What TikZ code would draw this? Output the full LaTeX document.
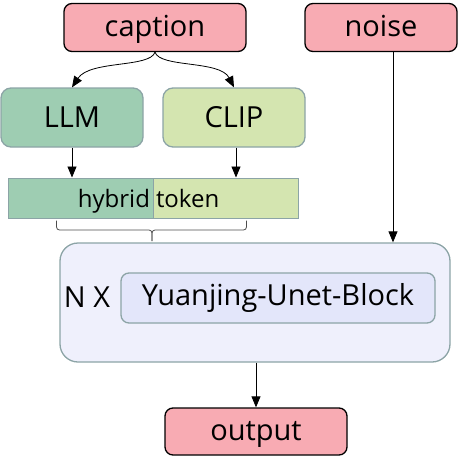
\documentclass[tikz,border=0pt]{standalone}
\usepackage{fontspec}
\setmainfont{Open Sans}
\usetikzlibrary{arrows.meta}
\definecolor{pinkfill}{HTML}{F8ABB3}
\definecolor{llmfill}{HTML}{9ECDB2}
\definecolor{clipfill}{HTML}{D4E5B0}
\definecolor{edgegray}{HTML}{8CA4A6}
\definecolor{blockfill}{HTML}{EFF0FC}
\definecolor{unetfill}{HTML}{E3E6FA}
\tikzset{
	pbox/.style 2 args={draw=black,fill=pinkfill,rounded corners=8pt,line width=1.3pt,minimum width=#1,minimum height=#2,inner sep=0pt,text height=23pt,text depth=6pt,font=\fontsize{29}{32}\selectfont},
	gbox/.style 2 args={draw=edgegray,fill=#1,rounded corners=10pt,line width=1.3pt,minimum width=142pt,minimum height=59pt,inner sep=0pt,text height=23pt,text depth=4pt,font=\fontsize{#2}{32}\selectfont},
	bar/.style 2 args={draw=edgegray,fill=#1,line width=1pt,minimum height=40pt,text width=139pt,inner sep=3pt,align=#2,text height=18pt,text depth=0pt,font=\fontsize{24}{26}\selectfont},
	arr/.style={-{Triangle[length=11pt,width=9pt]},line width=0.8pt}
}
\begin{document}
\begin{tikzpicture}[x=1pt,y=-1pt]
	\useasboundingbox (0,0) rectangle (458,467);
	\node [pbox={182pt}{48pt}] (caption) at (155,27.5) {caption};
	\node [pbox={152pt}{48pt}] (noise) at (381,27.5) {noise};
	\node [gbox={llmfill}{29}] (llm) at (72,117.5) {LLM};
	\node [gbox={clipfill}{29}] (clip) at (234,117.5) {CLIP};
	\node [bar={llmfill}{right}] (hybrid) at (80.5,198) {hybrid};
	\node [bar={clipfill}{left}] (token) at (225.5,198) {token};

	\node [draw=edgegray,fill=blockfill,rounded corners=18pt,line width=1.3pt,minimum width=390pt,minimum height=119pt] (stack) at (255,302.5) {};
	\node [draw=edgegray,fill=unetfill,rounded corners=8pt,line width=1.3pt,minimum width=314pt,minimum height=50pt,font=\fontsize{29}{32}\selectfont] (unet) at (278,298) {Yuanjing-Unet-Block};
	\node [font=\fontsize{29}{32}\selectfont,inner sep=0pt] (nx) at (87,297) {N X};
	\node [pbox={182pt}{47pt}] (output) at (256,431.5) {output};

	\coordinate (clipout) at ([xshift=2pt]clip.south);
	\coordinate (noiseout) at ([xshift=12pt]noise.south);
	\coordinate (braceL) at ([xshift=49pt,yshift=-2pt]hybrid.south west);
	\coordinate (braceR) at ([xshift=-52pt,yshift=-2pt]token.south east);
	\coordinate (braceM) at (152,230);
	\coordinate (braceTip) at (152,241);

	\draw[arr] (caption.south) .. controls (150,68) and (90,60) .. (llm.north);
	\draw[arr] (caption.south) .. controls (160,68) and (220,60) .. (clip.north);
	\draw[arr] (llm.south) -- (hybrid.north -| llm.south);
	\draw[arr] (clipout) -- (token.north -| clipout);
	\draw[arr] (noiseout) -- (stack.north -| noiseout);
	\draw[arr] (stack.south -| output.north) -- (output.north);

	% brace under the token bar
	\draw[line width=0.8pt,draw=black!70,rounded corners=3pt] (braceL) |- (braceM) -- (braceTip);
	\draw[line width=0.8pt,draw=black!70,rounded corners=3pt] (braceR) |- (braceM) -- (braceTip);
\end{tikzpicture}
\end{document}
